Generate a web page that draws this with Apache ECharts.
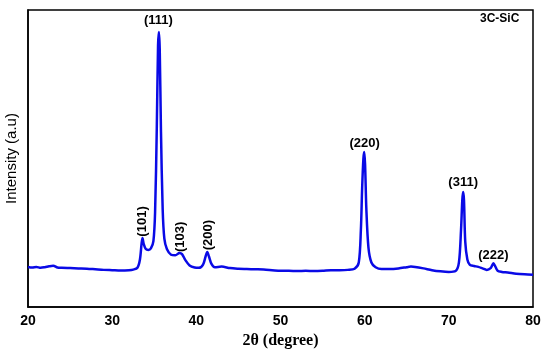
<!DOCTYPE html>
<html><head><meta charset="utf-8">
<script src="https://cdn.jsdelivr.net/npm/echarts@6/dist/echarts.min.js"></script>
<style>html,body{margin:0;padding:0;background:#fff}#c{width:550px;height:351px}</style>
</head><body><div id="c"></div>
<script>
var twoTheta = [20,20.5,21,21.5,22,22.5,23,23.5,24,25,26,27,28,29,30,31,32,32.5,33,33.3,33.5,33.6,33.75,34,34.3,34.6,34.9,35.1,35.3,35.45,35.55,35.65,35.8,36.0,36.2,36.5,37.0,37.5,38.0,38.3,38.7,39.2,39.8,40.3,40.8,41.1,41.3,41.5,41.8,42.2,43,44,45,46,47,48,49,50,51,52,53,54,55,56,57,58,58.8,59.3,59.55,59.7,59.85,59.95,60.05,60.2,60.45,60.8,61.3,62,63,64,65,65.5,66,67,68,69,70,70.8,71.2,71.45,71.6,71.7,71.8,71.95,72.2,72.5,73,73.5,74,74.5,75,75.3,75.5,75.8,76.3,77,78,79,80];
var intensity = [135,133,135,132,134,137,139,133,132,131,130,129,127,125,124,123,124,126,132,160,215,232,212,195,192,197,222,320,600,880,926,870,590,330,230,195,176,174,182,178,158,140,133,132,143,170,185,170,145,134,136,131,129,128,127,126,124,122,122,121,122,121,122,124,124,125,129,150,260,400,500,522,480,330,200,150,134,128,128,130,134,136,135,130,124,120,118,121,150,260,360,387,360,220,160,142,138,135,130,125,132,147,138,122,118,116,112,110,109];
var peakNames = ['(111)','(101)','(103)','(200)','(220)','(311)','(222)'];
var peakX = [35.5,33.55,38.1,41.4,60.0,71.7,75.3];
var peakLabelY = [966,288,236,242,552,418,175];
var peakRotate = [0,90,90,90,0,0,0];
var xTicks = [20,30,40,50,60,70,80];

var chart = echarts.init(document.getElementById('c'));
var lineData = twoTheta.map(function(x,i){return [x,intensity[i]];});
var labelData = peakNames.map(function(n,i){
  return {value:[peakX[i],peakLabelY[i]], name:n, label:{rotate:peakRotate[i]}};
});
chart.setOption({
  animation:false,
  grid:{left:28,right:17,top:10,bottom:44,outerBoundsMode:'none',containLabel:false,show:true,borderColor:'#000',borderWidth:1.5},
  xAxis:{type:'value',min:20,max:80,interval:10,
    axisLine:{lineStyle:{color:'#000',width:1.5}},axisTick:{show:false},splitLine:{show:false},
    axisLabel:{color:'#000',fontWeight:'bold',fontSize:14,fontFamily:'Liberation Sans, Arial',margin:7,
      formatter:function(v){return xTicks.indexOf(v)>=0?String(v):'';}},
    name:'2θ (degree)',nameLocation:'middle',nameGap:25,
    nameTextStyle:{color:'#000',fontWeight:'bold',fontSize:16,fontFamily:'Liberation Serif, Times New Roman'}},
  yAxis:{type:'value',min:0,max:1000,
    axisLine:{lineStyle:{color:'#000',width:1.5}},axisTick:{show:false},axisLabel:{show:false},splitLine:{show:false},
    name:'Intensity (a.u)',nameLocation:'middle',nameGap:9,
    nameTextStyle:{color:'#000',fontSize:15,fontFamily:'Liberation Sans, Arial'}},
  graphic:[{type:'text',left:480,top:13,style:{text:'3C-SiC',fill:'#000',font:'bold 12px Liberation Sans, Arial'}}],
  series:[
    {type:'line',data:lineData,showSymbol:false,smooth:0.3,
      lineStyle:{color:'#0a0ae6',width:2.5},z:3},
    {type:'scatter',data:labelData,symbolSize:0,z:4,itemStyle:{opacity:1},
      label:{show:true,position:'inside',formatter:function(p){return p.name;},
        color:'#000',fontWeight:'bold',fontSize:13,fontFamily:'Liberation Sans, Arial'}}
  ]
});
</script></body></html>
